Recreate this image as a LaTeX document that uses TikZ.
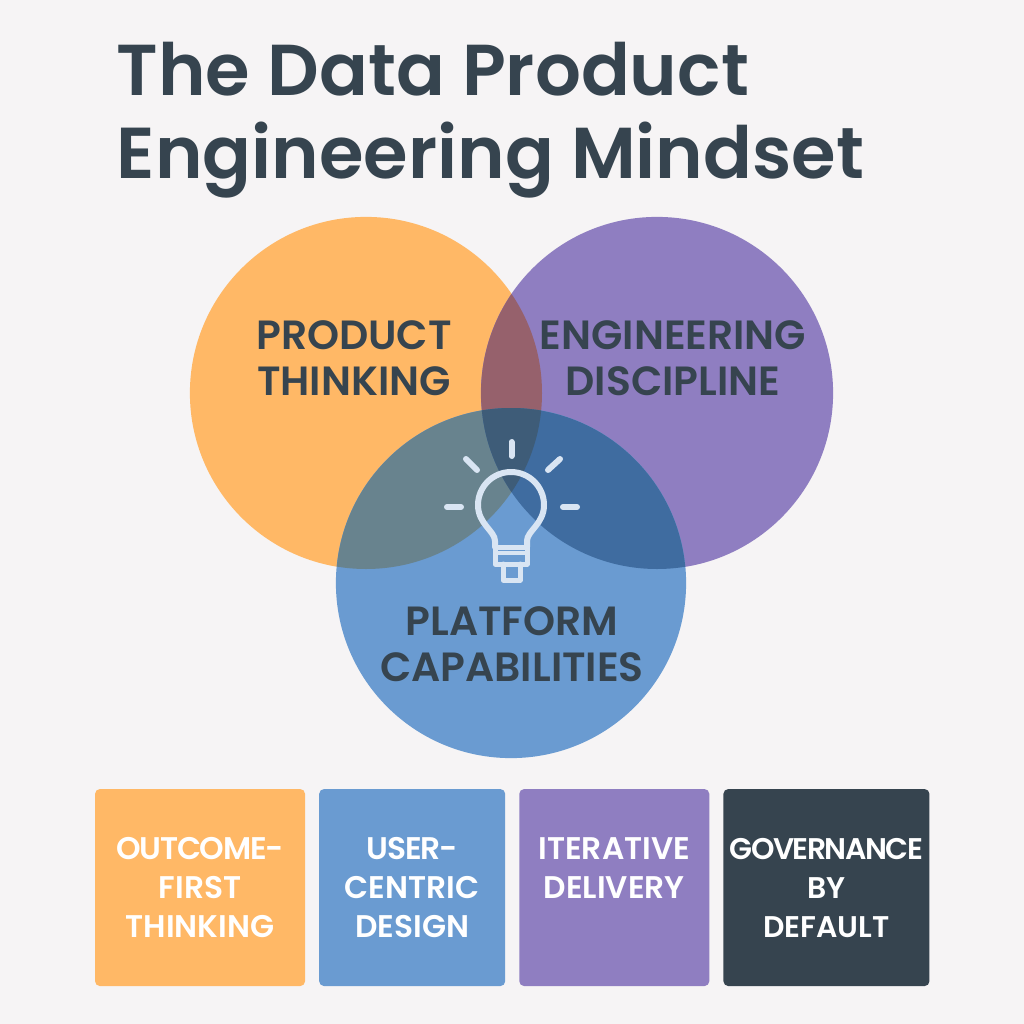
\documentclass[tikz,border=0pt]{standalone}
\usepackage{fontspec}
\usepackage{color}
\usetikzlibrary{positioning}
\setmainfont{Poppins SemiBold}
\definecolor{pageback}{HTML}{F6F4F5}
\definecolor{inkdark}{HTML}{36444F}
\definecolor{prodorange}{HTML}{FFB866}
\definecolor{engpurple}{HTML}{8F7EC1}
\definecolor{platblue}{HTML}{6A9BD1}
\definecolor{mixop}{HTML}{96616C}
\definecolor{mixob}{HTML}{68838E}
\definecolor{mixpb}{HTML}{3F6CA0}
\definecolor{mixall}{HTML}{3E5C78}
\definecolor{bulbline}{HTML}{D9E5F3}
\newcommand{\tightline}[2]{{\addfontfeature{LetterSpace=#1}#2}}
\begin{document}
\begin{tikzpicture}[x=0.01cm, y=-0.01cm,
					ring/.style={circle, inner sep=0pt, outer sep=0pt, minimum size=3.52cm},
					title/.style={anchor=base west, inner sep=0pt, inkdark, font=\fontsize{20.5}{24}\selectfont},
					ringlabel/.style={align=center, inkdark, font=\fontsize{11.6}{13}\selectfont},
					card/.style={rectangle, rounded corners=0.05cm, anchor=north west, minimum height=1.97cm, align=center, text=white, inner sep=0pt, outer sep=0pt, font=\fontsize{8.9}{11.1}\selectfont, execute at begin node={\rule{0pt}{8.5pt}}},
					bulb/.style={bulbline, line width=0.06cm, line cap=round, line join=round}
				]
				\fill[pageback] (0,0) rectangle (1024,1024);
				\useasboundingbox (0,0) rectangle (1024,1024);
				\node[title] (titleone) at (116,95) {The Data Product};
				\node[title] (titletwo) at (116,178) {Engineering Mindset};
				% the three circles
				\node[ring, fill=prodorange] (product) at (366,393) {};
				\node[ring, fill=engpurple] (engineering) at (657,393) {};
				\node[ring, fill=platblue, minimum size=3.5cm] (platform) at (511,583) {};
				% overlaps
				\begin{scope}
				\clip (366,393) circle (176);
				\fill[mixop] (657,393) circle (176);
				\fill[mixob] (511,583) circle (175);
				\end{scope}
				\begin{scope}
				\clip (657,393) circle (176);
				\fill[mixpb] (511,583) circle (175);
				\clip (366,393) circle (176);
				\fill[mixall] (511,583) circle (175);
				\end{scope}
				\node[ringlabel] (productlabel) at (354,358) {PRODUCT\\THINKING};
				\node[ringlabel] (engineeringlabel) at (673,358) {ENGINEERING\\DISCIPLINE};
				\node[ringlabel] (platformlabel) at (512,644) {PLATFORM\\CAPABILITIES};
				% the bulb
				\draw[bulb] (495,547) -- (495,541) .. controls (495,531) and (478,524) .. (478,505) arc (180:360:33) .. controls (544,524) and (527,531) .. (527,541) -- (527,547);
				\draw[bulb, line width=0.05cm] (495,547) -- (527,547) -- (527,564) -- (495,564) -- cycle;
				\draw[bulb, line width=0.04cm] (495,553) -- (527,553);
				\draw[bulb, line width=0.05cm] (503,564) -- (503,580) -- (520,580) -- (520,564);
				\draw[bulb] (511.5,442) -- (511.5,456);
				\draw[bulb] (466,459) -- (477,470);
				\draw[bulb] (560,459) -- (548,470);
				\draw[bulb] (447,507) -- (461,507);
				\draw[bulb] (563,507) -- (577,507);
				% the four cards
				\node[card, fill=prodorange, minimum width=2.1cm] (outcome) at (95,789) {\tightline{-4}{OUTCOME-}\\FIRST\\THINKING};
				\node[card, fill=platblue, minimum width=1.86cm] (user) [right=0.14cm of outcome.north east, anchor=north west] {\tightline{-4}{USER-}\\CENTRIC\\DESIGN};
				\node[card, fill=engpurple, minimum width=1.9cm] (iterative) [right=0.14cm of user.north east, anchor=north west] {ITERATIVE\\DELIVERY\\\phantom{X}};
				\node[card, fill=inkdark, minimum width=2.06cm, font=\fontsize{8.5}{11.1}\selectfont] (governance) [right=0.14cm of iterative.north east, anchor=north west] {\tightline{-5}{GOVERNANCE}\\BY\\DEFAULT};
				\end{tikzpicture}
\end{document}
